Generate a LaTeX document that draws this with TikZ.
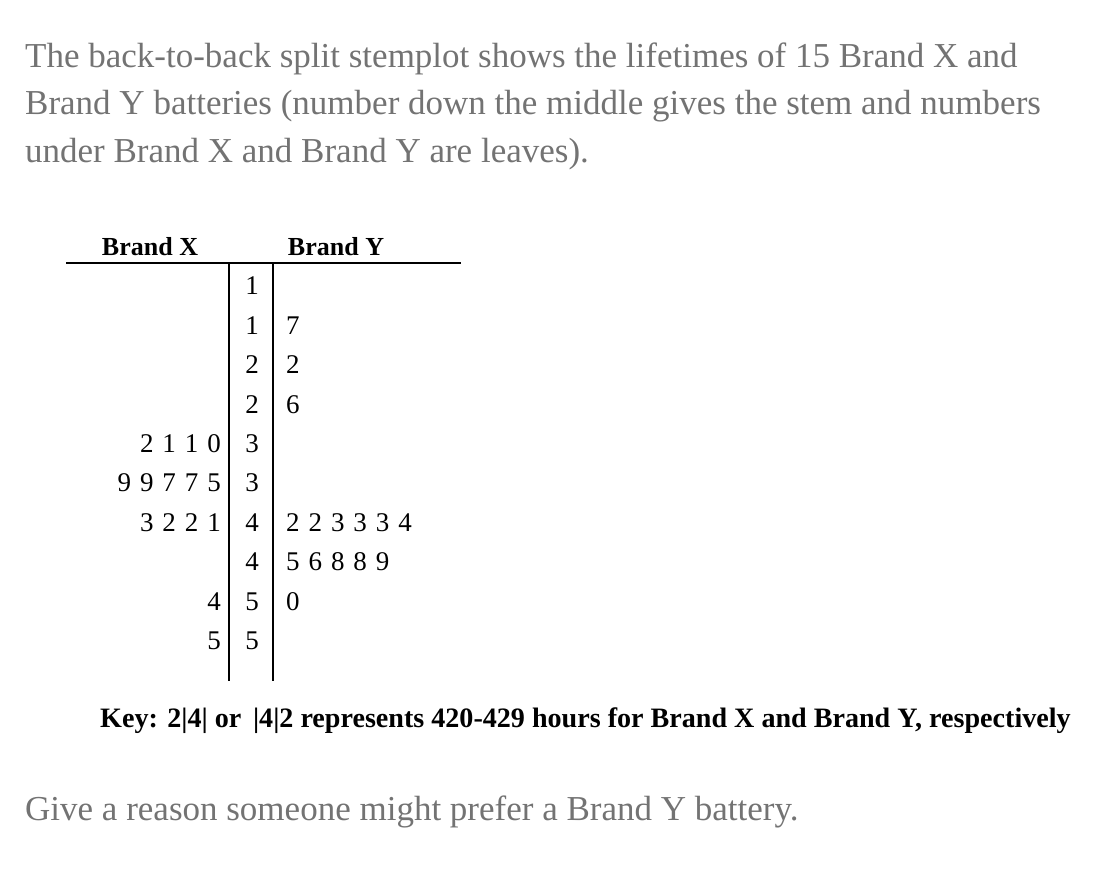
\documentclass[tikz,border=0pt]{standalone}
\usepackage{fontspec}
\setmainfont{Liberation Serif}
\begin{document}
\begin{tikzpicture}[x=1pt,y=-1pt,
  para/.style={anchor=base west,inner sep=0,text=black!55,font=\fontsize{35}{40}\selectfont},
  dig/.style={inner sep=0,font=\fontsize{27}{30}\selectfont},
  lf/.style={dig,anchor=base east},
  rt/.style={dig,anchor=base west},
  st/.style={dig,anchor=base},
  rule/.style={line width=1.6pt}]
\useasboundingbox (0,0) rectangle (1120,888);
\node[para] (t1) at (25,68) {The back-to-back split stemplot shows the lifetimes of 15 Brand X and};
\node[para] (t2) at (25,115) {Brand Y batteries (number down the middle gives the stem and numbers};
\node[para] (t3) at (25,163) {under Brand X and Brand Y are leaves).};
\node[dig,anchor=base,font=\bfseries\fontsize{26}{30}\selectfont] (bx) at (150,255) {Brand X};
\node[dig,anchor=base,font=\bfseries\fontsize{26}{30}\selectfont] (by) at (336,255) {Brand Y};
\coordinate (hl) at (66,263); \coordinate (hr) at (461,263);
\draw[rule] (hl) -- (hr);
\coordinate (a1) at (229,263); \coordinate (a2) at (229,681);
\coordinate (b1) at (273,263); \coordinate (b2) at (273,681);
\draw[rule] (a1) -- (a2); \draw[rule] (b1) -- (b2);
\def\sp{\hspace{0.33em}}
\foreach \y/\s/\l/\r [count=\i] in {294/1//, 334/1//7, 373/2//2, 413/2//6, 452/3/2\sp1\sp1\sp0/, 491/3/9\sp9\sp7\sp7\sp5/, 531/4/3\sp2\sp2\sp1/2\sp2\sp3\sp3\sp3\sp4, 570/4//5\sp6\sp8\sp8\sp9, 610/5/4/0, 649/5/5/}{
  \node[st] (s\i) at (252,\y) {\s};
  \node[lf] (l\i) at (221,\y) {\l};
  \node[rt] (r\i) at (286,\y) {\r};
}
\node[anchor=base west,inner sep=0,font=\bfseries\fontsize{28.1}{30}\selectfont] (key) at (100,727) {Key: 2|4| or \,|4|2 represents 420-429 hours for Brand X and Brand Y, respectively};
\node[para,font=\fontsize{35}{40}\selectfont] (q) at (25,820) {Give a reason someone might prefer a Brand Y battery.};
\end{tikzpicture}
\end{document}
